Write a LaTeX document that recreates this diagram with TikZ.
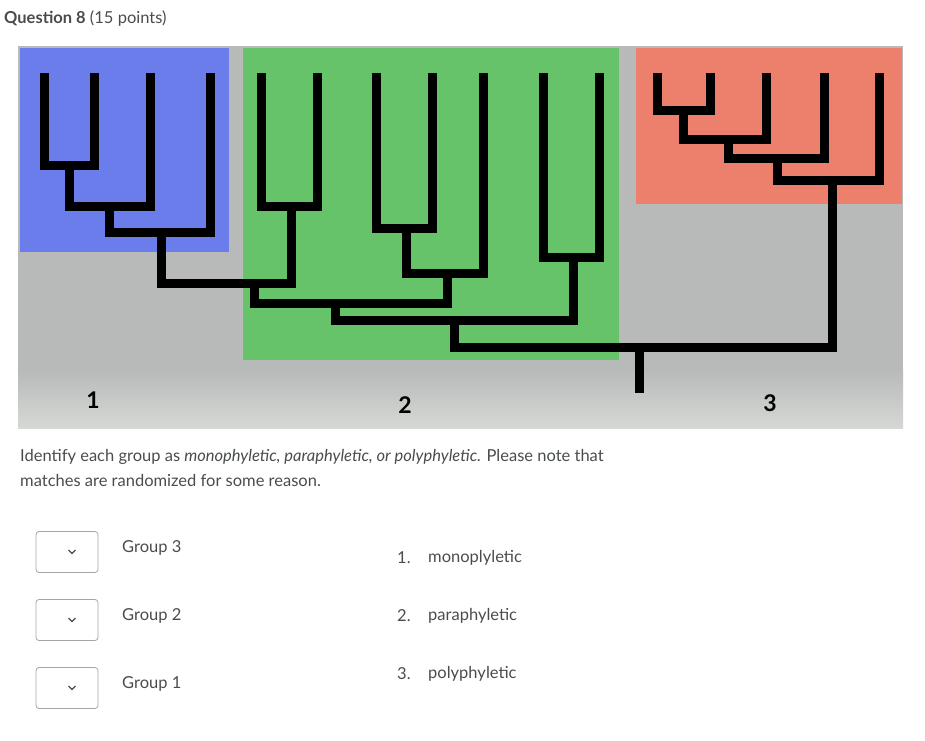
\documentclass[tikz,border=0pt]{standalone}
\usetikzlibrary{calc}
\usepackage{fontspec}
\setmainfont{Lato}
\definecolor{bgg}{RGB}{184,186,185}
\definecolor{bgl}{RGB}{214,216,214}
\definecolor{blu}{RGB}{106,125,235}
\definecolor{grn}{RGB}{103,195,106}
\definecolor{red1}{RGB}{236,128,108}
\definecolor{txt}{RGB}{73,76,78}
\tikzset{br/.style={line width=9pt,line join=miter},
 lab/.style={font=\fontsize{23}{23}\selectfont\bfseries,text=black},
 body/.style={font=\fontsize{16.5}{20}\selectfont,text=txt,anchor=west,inner sep=0},
 ddbox/.style={draw=gray!70,rounded corners=3pt,line width=0.8pt,fill=white,minimum width=62pt,minimum height=41pt}}
\begin{document}
\begin{tikzpicture}[x=1pt,y=-1pt]
\useasboundingbox (0,0) rectangle (925,740);
\fill[bgg] (18,46) rectangle (903,370);
\shade[top color=bgg,bottom color=bgl] (18,370) rectangle (903,428);
\fill[blu] (20,48) rectangle (229,252);
\fill[grn] (243,48) rectangle (619,360);
\fill[red1] (636,48) rectangle (902,204);
\draw[br] (44,73)--(44,165)--(94,165)--(94,73);
\draw[br] (69,165)--(69,206)--(150,206)--(150,73);
\draw[br] (109,206)--(109,232)--(210,232)--(210,73);
\draw[br] (161,232)--(161,283)--(291,283)--(291,206);
\draw[br] (261,73)--(261,206)--(317,206)--(317,73);
\draw[br] (254,283)--(254,303)--(447,303)--(447,273);
\draw[br] (376,73)--(376,228)--(432,228)--(432,73);
\draw[br] (406,228)--(406,273)--(483,273)--(483,73);
\draw[br] (335,303)--(335,320)--(573,320)--(573,257);
\draw[br] (543,73)--(543,257)--(599,257)--(599,73);
\draw[br] (454,320)--(454,347)--(832,347)--(832,180);
\draw[br] (657,73)--(657,110)--(710,110)--(710,73);
\draw[br] (683,110)--(683,139)--(766,139)--(766,73);
\draw[br] (728,139)--(728,158)--(824,158)--(824,73);
\draw[br] (777,158)--(777,180)--(879,180)--(879,73);
\draw[br] (639,347)--(639,393);
\node[lab] (l1) at (93,400) {1};
\node[lab] (l2) at (405,405) {2};
\node[lab] (l3) at (770,403) {3};
\node[body,text=txt] (q) at (4,19) {\textbf{Question 8} (15 points)};
\node[body] (p1) at (20,457) {Identify each group as \textit{monophyletic, paraphyletic, or polyphyletic.} Please note that};
\node[body] (p2) at (20,480) {matches are randomized for some reason.};
\foreach \y/\g [count=\i] in {552/3,620/2,688/1}{
  \node[ddbox] (d\i) at (67,\y) {};
  \draw[line width=1.3pt,txt] ($(d\i.center)+(1.5,-2)$) coordinate (c\i) -- ++(3.5,3.5) -- ++(3.5,-3.5);
  \node[body] (g\i) at (122,\y-4) {Group \g};
}
\foreach \y/\w [count=\i] in {558/monoplyletic,616/paraphyletic,674/polyphyletic}{
  \node[body] (n\i) at (397,\y) {\i.};
  \node[body] (w\i) at (428,\y) {\w};
}
\end{tikzpicture}
\end{document}
